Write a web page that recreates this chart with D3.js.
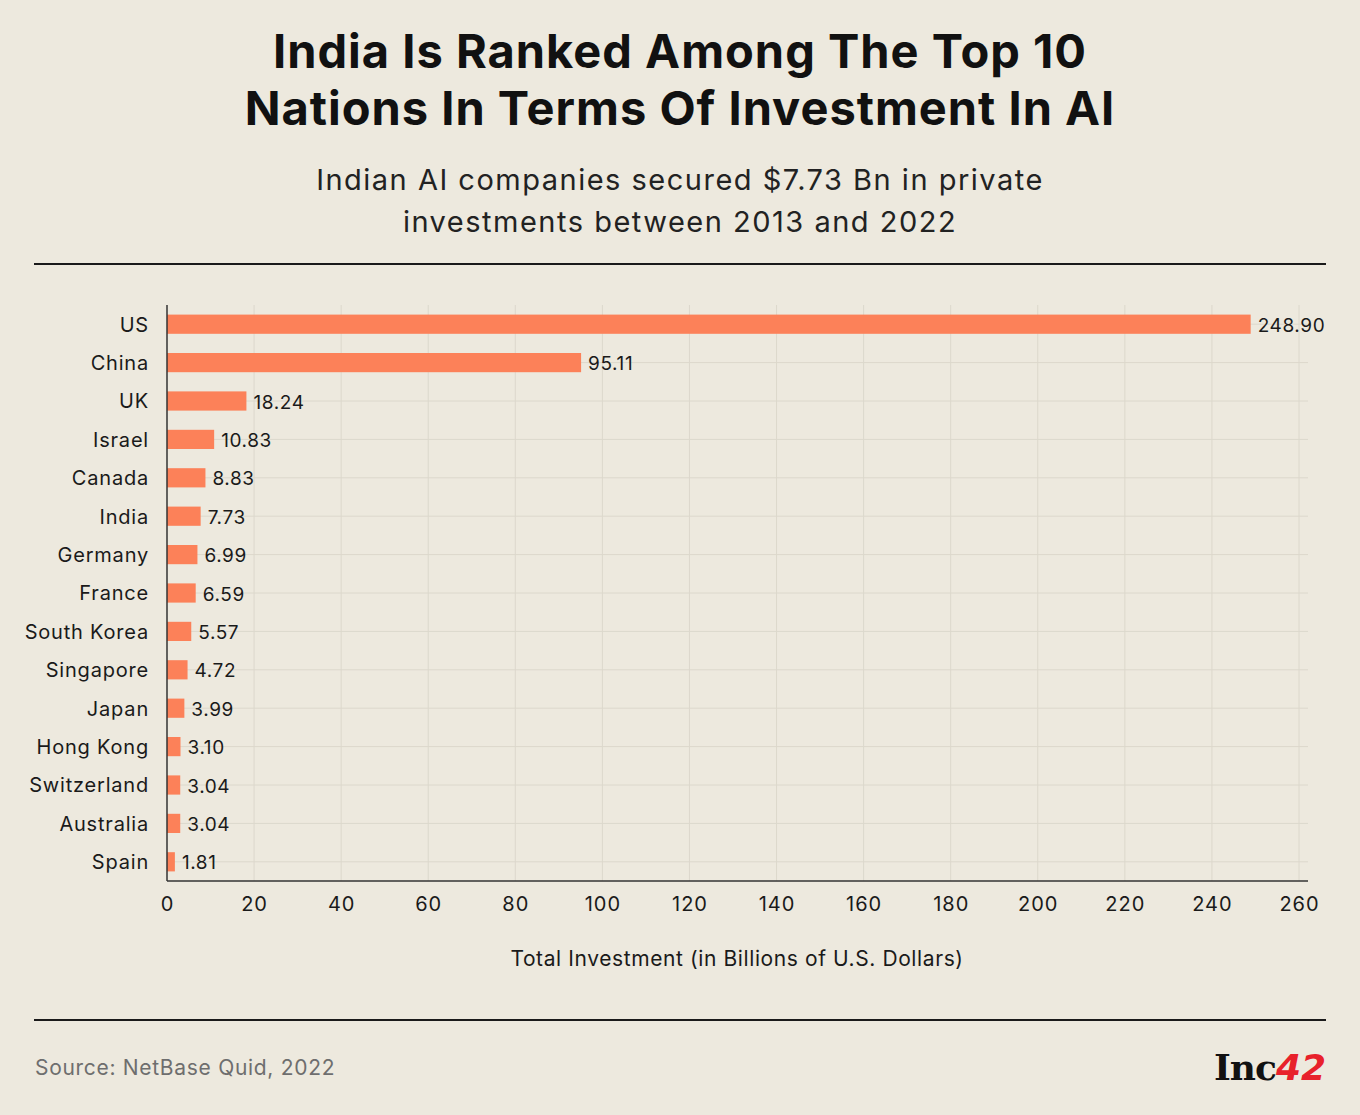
<!DOCTYPE html>
<html>
<head>
<meta charset="utf-8">
<script src="https://cdn.jsdelivr.net/npm/d3@7"></script>
<style>
  body { margin: 0; background: #ede9de; }
  svg { display: block; }
  text { font-family: "Inter", "Open Sans", sans-serif; }
</style>
</head>
<body>
<div id="main"></div>
<script>
const W = 1360, H = 1115;

// data
const countries = ["US", "China", "UK", "Israel", "Canada", "India", "Germany", "France",
                   "South Korea", "Singapore", "Japan", "Hong Kong", "Switzerland", "Australia", "Spain"];
const investment = [248.90, 95.11, 18.24, 10.83, 8.83, 7.73, 6.99, 6.59,
                    5.57, 4.72, 3.99, 3.10, 3.04, 3.04, 1.81];
const xTicks = [0, 20, 40, 60, 80, 100, 120, 140, 160, 180, 200, 220, 240, 260];

const titleLines = ["India Is Ranked Among The Top 10", "Nations In Terms Of Investment In AI"];
const subtitleLines = ["Indian AI companies secured $7.73 Bn in private", "investments between 2013 and 2022"];
const xTitle = "Total Investment (in Billions of U.S. Dollars)";
const source = "Source: NetBase Quid, 2022";

const rows = countries.map((c, i) => ({name: c, value: investment[i]}));

const m = {left: 167, right: 1308, top: 305, bottom: 881};

const svg = d3.select("#main").append("svg")
    .attr("width", W)
    .attr("height", H);

svg.append("rect").attr("width", W).attr("height", H).attr("fill", "#ede9de");

// titles
svg.append("g").selectAll("text")
    .data(titleLines)
    .join("text")
    .attr("x", W / 2)
    .attr("y", (d, i) => 68 + i * 57)
    .attr("text-anchor", "middle")
    .attr("font-size", 47)
    .attr("font-weight", 700)
    .attr("letter-spacing", 1)
    .attr("fill", "#111")
    .text(d => d);

svg.append("g").selectAll("text")
    .data(subtitleLines)
    .join("text")
    .attr("x", W / 2)
    .attr("y", (d, i) => 190 + i * 42)
    .attr("text-anchor", "middle")
    .attr("font-size", 29)
    .attr("letter-spacing", 1.5)
    .attr("fill", "#222")
    .text(d => d);

// separators
[264, 1020].forEach(y => {
    svg.append("line")
        .attr("x1", 34).attr("x2", 1326)
        .attr("y1", y).attr("y2", y)
        .attr("stroke", "#1a1a1a")
        .attr("stroke-width", 2);
});

const x = d3.scaleLinear().domain([0, 260]).range([m.left, 1299]);
const y = d3.scaleBand()
    .domain(countries)
    .range([m.top, m.bottom])
    .paddingInner(0.5)
    .paddingOuter(0.25);

const chart = svg.append("g");

// gridlines
chart.append("g").selectAll("line")
    .data(xTicks.slice(1))
    .join("line")
    .attr("x1", d => x(d)).attr("x2", d => x(d))
    .attr("y1", m.top).attr("y2", m.bottom)
    .attr("stroke", "#dcd8cc")
    .attr("stroke-width", 1);

chart.append("g").selectAll("line")
    .data(countries)
    .join("line")
    .attr("x1", m.left).attr("x2", m.right)
    .attr("y1", d => y(d) + y.bandwidth() / 2)
    .attr("y2", d => y(d) + y.bandwidth() / 2)
    .attr("stroke", "#dcd8cc")
    .attr("stroke-width", 1);

// bars
chart.append("g").selectAll("rect")
    .data(rows)
    .join("rect")
    .attr("x", x(0))
    .attr("y", d => y(d.name))
    .attr("width", d => x(d.value) - x(0))
    .attr("height", y.bandwidth())
    .attr("fill", "#fc8159");

// value labels
chart.append("g").selectAll("text")
    .data(rows)
    .join("text")
    .attr("x", d => x(d.value) + 7)
    .attr("y", d => y(d.name) + y.bandwidth() / 2 + 1)
    .attr("dy", "0.35em")
    .attr("font-size", 19)
    .attr("letter-spacing", 0.6)
    .attr("fill", "#1a1a1a")
    .text(d => d.value.toFixed(2));

// y axis
const yAxis = chart.append("g")
    .attr("transform", `translate(${m.left},1)`)
    .call(d3.axisLeft(y).tickSize(0).tickPadding(18));
yAxis.select(".domain").attr("stroke", "#333").attr("stroke-width", 1.5)
    .attr("d", `M0,${m.top - 1}V${m.bottom - 1}`);
yAxis.selectAll("text").attr("font-size", 20).attr("letter-spacing", 0.8).attr("fill", "#1a1a1a")
    .style("font-family", "Inter, 'Open Sans', sans-serif");

// x axis
const xAxis = chart.append("g")
    .attr("transform", `translate(0,${m.bottom})`)
    .call(d3.axisBottom(x).tickValues(xTicks).tickSize(0).tickPadding(16));
xAxis.select(".domain").attr("stroke", "#333").attr("stroke-width", 1.5)
    .attr("d", `M${m.left},0H${m.right}`);
xAxis.selectAll("text").attr("font-size", 20).attr("letter-spacing", 1).attr("fill", "#1a1a1a")
    .style("font-family", "Inter, 'Open Sans', sans-serif");

svg.append("text")
    .attr("x", 737)
    .attr("y", 966)
    .attr("text-anchor", "middle")
    .attr("font-size", 21)
    .attr("letter-spacing", 0.6)
    .attr("fill", "#1a1a1a")
    .text(xTitle);

// footer
svg.append("text")
    .attr("x", 35)
    .attr("y", 1075)
    .attr("font-size", 21)
    .attr("letter-spacing", 0.7)
    .attr("fill", "#6e6e6e")
    .text(source);

const logo = svg.append("text")
    .attr("x", 1326)
    .attr("y", 1080)
    .attr("text-anchor", "end")
    .attr("font-size", 36)
    .attr("font-weight", 700);
logo.append("tspan")
    .style("font-family", "'DejaVu Serif', 'Liberation Serif', serif")
    .attr("fill", "#111")
    .attr("letter-spacing", -1)
    .text("Inc");
logo.append("tspan")
    .style("font-family", "'DejaVu Sans', sans-serif")
    .attr("fill", "#e8212b")
    .attr("font-style", "italic")
    .text("42");
</script>
</body>
</html>
